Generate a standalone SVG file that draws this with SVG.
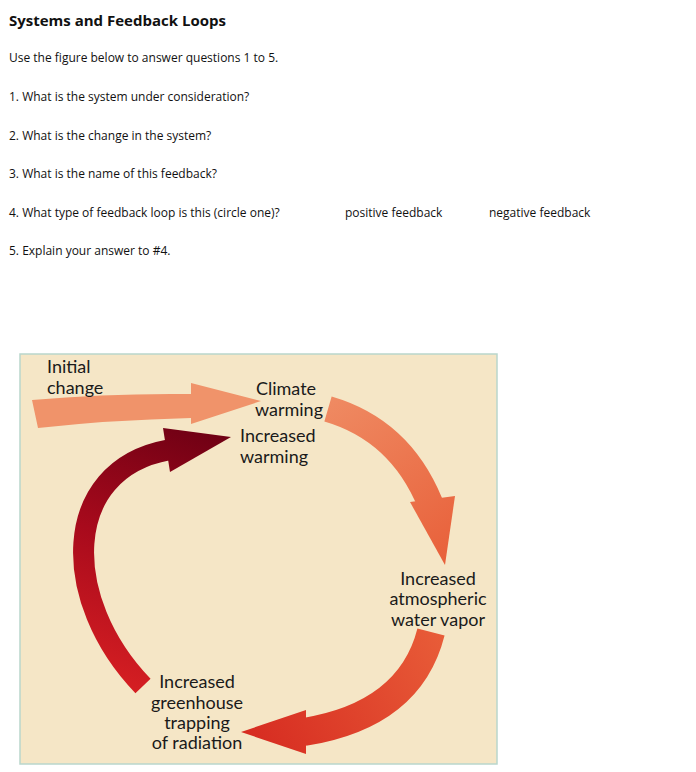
<svg xmlns="http://www.w3.org/2000/svg" width="696" height="772" viewBox="0 0 696 772">
<style>
.h{font-family:"Open Sans","Liberation Sans",sans-serif;font-size:12px;fill:#111}
.t{font-family:"Open Sans","Liberation Sans",sans-serif;font-size:15px;font-weight:bold;fill:#111}
.l{font-family:"Lato","Open Sans",sans-serif;font-size:18px;fill:#1a1a1a}
</style>
<defs>
<linearGradient id="gR" gradientUnits="userSpaceOnUse" x1="330" y1="400" x2="445" y2="565"><stop offset="0" stop-color="#ef8a62"/><stop offset="1" stop-color="#e8603a"/></linearGradient>
<linearGradient id="gB" gradientUnits="userSpaceOnUse" x1="440" y1="632" x2="241" y2="740"><stop offset="0" stop-color="#e85c38"/><stop offset="1" stop-color="#d62a20"/></linearGradient>
<linearGradient id="gL" gradientUnits="userSpaceOnUse" x1="140" y1="690" x2="230" y2="435"><stop offset="0" stop-color="#d41e22"/><stop offset="0.5" stop-color="#a80a1c"/><stop offset="1" stop-color="#6e0014"/></linearGradient>
</defs>
<rect width="696" height="772" fill="#fff"/>
<text class="t" x="9" y="26">Systems and Feedback Loops</text>
<text class="h" x="9" y="62">Use the figure below to answer questions 1 to 5.</text>
<text class="h" x="9" y="101">1. What is the system under consideration?</text>
<text class="h" x="9" y="140">2. What is the change in the system?</text>
<text class="h" x="9" y="178">3. What is the name of this feedback?</text>
<text class="h" x="9" y="217">4. What type of feedback loop is this (circle one)?</text>
<text class="h" x="345" y="217">positive feedback</text>
<text class="h" x="489" y="217">negative feedback</text>
<text class="h" x="9" y="255">5. Explain your answer to #4.</text>
<rect x="20" y="354" width="477" height="410" fill="#f5e6c6" stroke="#b9d6cc" stroke-width="1.5"/>
<g id="connectors">
<path d="M32,400 Q110,393 191,394 L191,383 L261,401 L191,424 L191,418 Q110,420 38,428Z" fill="#f0936a"/>
<path d="M328,409 Q400,430 430,503" fill="none" stroke="url(#gR)" stroke-width="26"/>
<path d="M410,502 L455,496 L445,565Z" fill="url(#gR)"/>
<path d="M431,632 Q410,715 304,732" fill="none" stroke="url(#gB)" stroke-width="28"/>
<path d="M306,710 L306,754 L241,732Z" fill="url(#gB)"/>
<path d="M143,686 C60,600 60,470 168,450" fill="none" stroke="url(#gL)" stroke-width="21"/>
<path d="M163,428 L170,472 L231,437Z" fill="url(#gL)"/>
</g>
<g id="initial"><text class="l" x="47" y="373">Initial</text><text class="l" x="47" y="394">change</text></g>
<g id="climate"><text class="l" x="286" y="395" text-anchor="middle">Climate</text><text class="l" x="289" y="416" text-anchor="middle">warming</text></g>
<g id="increased-warming"><text class="l" x="240" y="442">Increased</text><text class="l" x="240" y="463">warming</text></g>
<g id="vapor"><text class="l" x="438" y="585" text-anchor="middle">Increased</text><text class="l" x="438" y="605" text-anchor="middle">atmospheric</text><text class="l" x="438" y="626" text-anchor="middle">water vapor</text></g>
<g id="greenhouse"><text class="l" x="197" y="688" text-anchor="middle">Increased</text><text class="l" x="197" y="709" text-anchor="middle">greenhouse</text><text class="l" x="197" y="729" text-anchor="middle">trapping</text><text class="l" x="197" y="749" text-anchor="middle">of radiation</text></g>
</svg>
